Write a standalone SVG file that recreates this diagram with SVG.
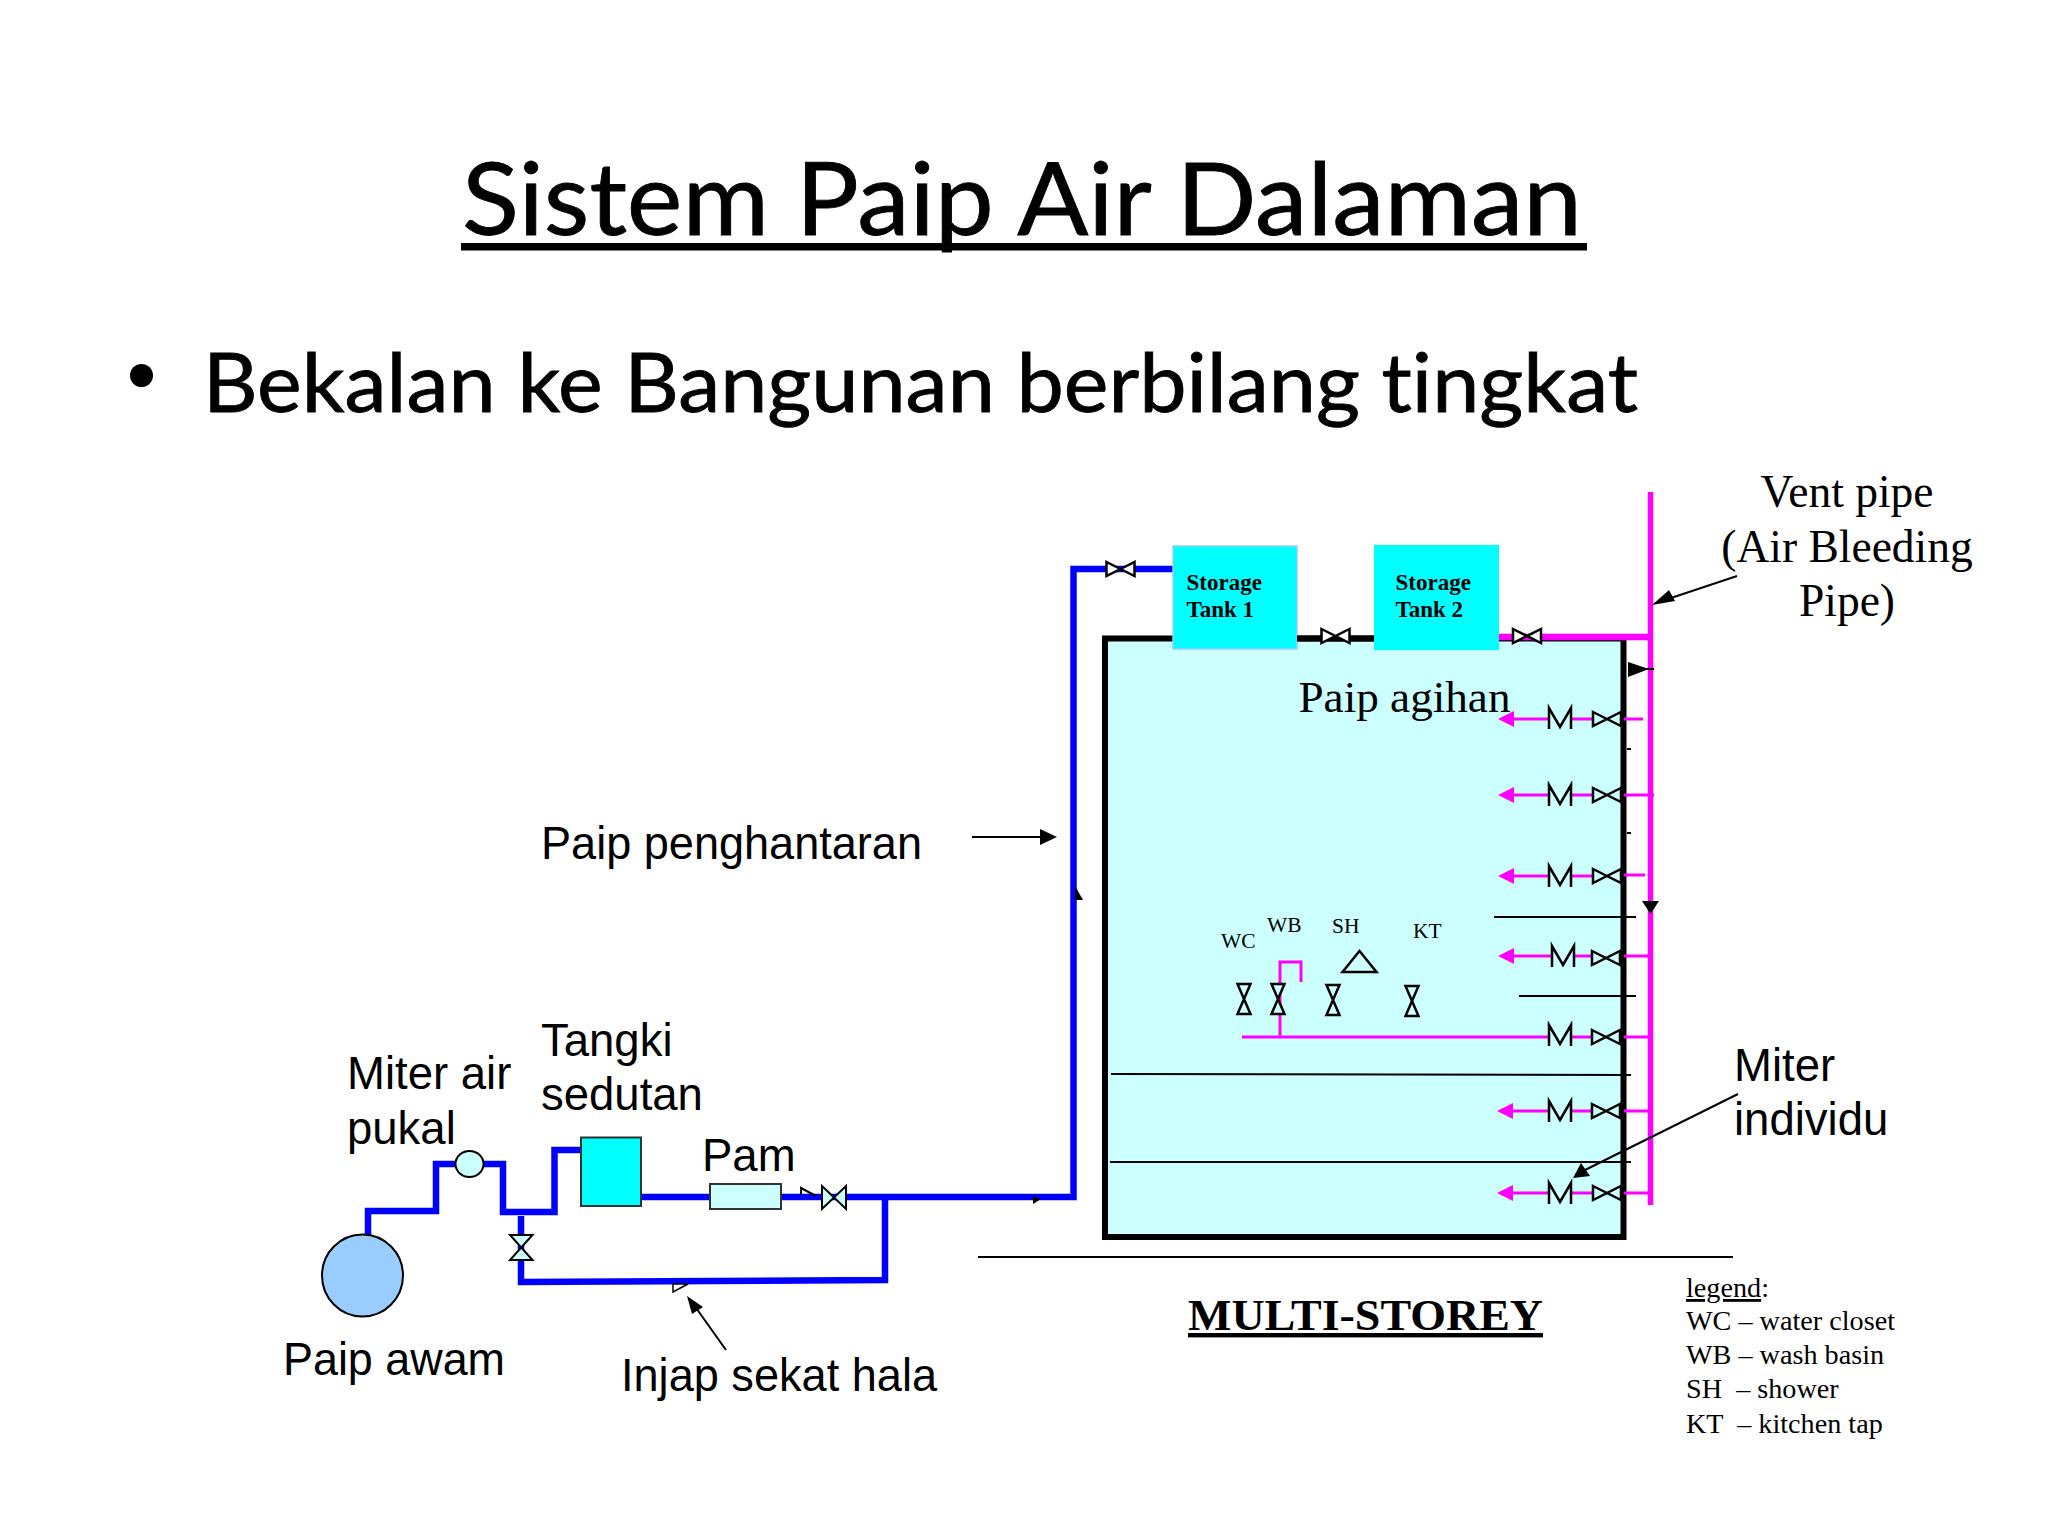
<svg xmlns="http://www.w3.org/2000/svg" width="2048" height="1536" viewBox="0 0 2048 1536">
<defs>
<style>
.sl{font-family:"Lato","Noto Sans",sans-serif;fill:#000;stroke:#000;stroke-width:.8;font-variant-ligatures:none}
.a{font-family:"Liberation Sans",Arial,sans-serif;font-size:45.500px;fill:#000}
.t{font-family:"Liberation Serif","Times New Roman",serif;fill:#000}
.b{font-weight:bold}
.fx{font-size:21.500px}
.lg{font-size:28.200px;white-space:pre}
.blue{fill:none;stroke:#0000ff;stroke-width:6.500}
.mag{fill:none;stroke:#ff00ff;stroke-width:3}
.magT{fill:none;stroke:#ff00ff;stroke-width:6.500}
.thin{fill:none;stroke:#000;stroke-width:2}
.v{fill:#fff;stroke:#000;stroke-width:2.500}
.vc{fill:#ccffff;stroke:#000;stroke-width:2.500}
.m{fill:none;stroke:#000;stroke-width:2.500}
.hd{fill:#000;stroke:none}
.mh{fill:#ff00ff;stroke:none}
</style>
<g id="vh"><path class="v" d="M-14,-7 L14,7 L14,-7 L-14,7 Z"/></g>
<g id="vhc"><path class="vc" d="M-14,-7 L14,7 L14,-7 L-14,7 Z"/></g>
<g id="vv"><path class="vc" d="M-6.500,-15 L6.500,-15 L-6.500,15 L6.500,15 Z"/></g>
<g id="meter"><rect x="-10" y="-6" width="20" height="12" fill="#ccffff"/><path class="m" d="M-11,11 L-11,-10 L0,9 L11,-10 L11,11"/></g>
<g id="row"><path class="mag" d="M14,0 H95"/><path class="mh" d="M0,0 L16,-8 L16,8 Z"/></g>
</defs>
<rect width="2048" height="1536" fill="#fff"/>

<g id="title">
<text class="sl" x="462" y="235" font-size="101" textLength="1120" lengthAdjust="spacingAndGlyphs">Sistem Paip Air Dalaman</text>
<rect x="461" y="243" width="1126" height="7.500" fill="#000"/>
</g>
<g id="bullet">
<circle cx="141.500" cy="375.500" r="11.500" fill="#000"/>
<text class="sl" x="203" y="412" font-size="81" textLength="1435" lengthAdjust="spacingAndGlyphs">Bekalan ke Bangunan berbilang tingkat</text>
</g>

<g id="building"><rect x="1105" y="638.500" width="518.500" height="598.500" fill="#ccffff" stroke="#000" stroke-width="6"/></g>

<g id="connectors">
<path class="blue" d="M368,1237 V1211 H436 V1164 H503 V1212 H554.500 V1150 H581"/>
<path class="blue" d="M642,1197 H1073.500 V569 H1173"/>
<path class="blue" d="M521,1216 V1282 L885,1280 V1197"/>
<path class="magT" d="M1499,637 H1650"/>
<path d="M1650.500,492 V1205" fill="none" stroke="#ff00ff" stroke-width="5.500"/>
<path class="mag" d="M1624,719 H1643 M1624,795 H1654 M1624,875 H1645 M1624,956 H1648 M1624,1037 H1650 M1624,1111 H1650 M1624,1193 H1650"/>
<path class="mag" d="M1242,1037 H1593"/>
<path class="mag" d="M1280,1037 V962 H1301 V982"/>
<g id="row-pipes">
<use href="#row" x="1498" y="719"/>
<use href="#row" x="1498" y="795"/>
<use href="#row" x="1498" y="876"/>
<use href="#row" x="1498" y="956"/>
<use href="#row" x="1497" y="1111"/>
<use href="#row" x="1497" y="1193"/>
</g>
<path class="thin" d="M1494,917 H1636 M1519,996 H1636 M1111,1074 L1631,1075 M1110,1162 H1631 M978,1257 H1733"/>
<path class="thin" d="M1627,749 H1631 M1627,833 H1631"/>
<path class="thin" d="M972,837 H1042"/><path class="hd" d="M1057,837 L1040,829 V845 Z"/>
<path class="thin" d="M1737,576 L1665,600"/><path class="hd" d="M1652,605 L1669,590 L1675,601 Z"/>
<path class="hd" d="M1649,669 L1628,662 V677 Z"/><path class="thin" d="M1640,669 H1654"/>
<path class="hd" d="M1650.500,914 L1642,901 H1659 Z"/>
<path class="hd" d="M1075,886 L1083,900 H1075 Z"/>
<path class="thin" d="M1738,1094 L1585,1170"/><path class="hd" d="M1573,1178 L1581,1163 L1590,1176 Z"/>
<path class="thin" d="M726,1350 L694,1305"/><path class="hd" d="M687,1296 L703,1307 L692,1314 Z"/>
<path class="hd" d="M1033,1196 V1204 L1041,1199 Z"/>
</g>

<g id="tank-1"><rect x="1173" y="546" width="124" height="103" fill="#00ffff" stroke="#99ccff" stroke-width="1.500"/>
<text class="t b" font-size="23" x="1186.500" y="590">Storage</text><text class="t b" font-size="23" x="1186.500" y="617">Tank 1</text></g>
<g id="tank-2"><rect x="1374" y="545" width="125" height="105" fill="#00ffff"/>
<text class="t b" font-size="23" x="1395.500" y="590">Storage</text><text class="t b" font-size="23" x="1395.500" y="617">Tank 2</text></g>
<path d="M1297,638.500 H1374" fill="none" stroke="#000" stroke-width="6"/>

<g id="valves">
<use href="#vh" x="1120.500" y="569"/><use href="#vh" x="1335.500" y="636"/><use href="#vh" x="1527" y="636"/>
<use href="#vhc" x="1607" y="719"/><use href="#vhc" x="1607" y="795"/><use href="#vhc" x="1607" y="876"/><use href="#vhc" x="1606" y="958"/>
<use href="#vhc" x="1606" y="1037"/><use href="#vhc" x="1606" y="1111"/><use href="#vhc" x="1607" y="1193"/>
<use href="#vv" x="1244" y="999"/><use href="#vv" x="1278" y="999"/><use href="#vv" x="1333" y="1000"/><use href="#vv" x="1412" y="1001"/>
</g>
<g id="meters">
<use href="#meter" x="1560" y="718"/><use href="#meter" x="1560" y="795"/><use href="#meter" x="1560" y="876"/><use href="#meter" x="1563" y="956"/>
<use href="#meter" x="1560" y="1035"/><use href="#meter" x="1560" y="1111"/><use href="#meter" x="1560" y="1193"/>
</g>
<g id="shower"><path d="M1359.500,951 L1342.500,972 H1376.500 Z" fill="none" stroke="#000" stroke-width="2.500"/></g>

<g id="public-main"><ellipse cx="362.500" cy="1275.500" rx="40.500" ry="41" fill="#99ccff" stroke="#000" stroke-width="2"/></g>
<g id="bulk-meter"><ellipse cx="469.500" cy="1164" rx="14" ry="13" fill="#ccffff" stroke="#000" stroke-width="2"/></g>
<g id="suction-tank"><rect x="581" y="1137.500" width="60" height="68.500" fill="#00ffff" stroke="#333" stroke-width="2"/></g>
<g id="pump"><rect x="710" y="1184" width="71" height="25" fill="#ccffff" stroke="#333" stroke-width="2"/></g>
<g id="pump-valve"><path d="M822,1186 L846,1209 V1186 L822,1209 Z" fill="#ccffff" stroke="#000" stroke-width="2"/><path d="M801,1195 V1188 L816,1196" fill="none" stroke="#000" stroke-width="2"/></g>
<g id="bypass-valve"><path d="M510,1235 H532.500 L510,1260 H532.500 Z" fill="#ccffff" stroke="#000" stroke-width="2"/></g>
<g id="check-valve"><path d="M673,1284 V1292 L688,1284 Z" fill="#fff" stroke="#000" stroke-width="1.500"/></g>

<g id="labels">
<text class="a" x="541" y="859" textLength="381" lengthAdjust="spacingAndGlyphs">Paip penghantaran</text>
<text class="a" x="541" y="1056">Tangki</text><text class="a" x="541" y="1110">sedutan</text>
<text class="a" x="347" y="1089">Miter air</text><text class="a" x="347" y="1144">pukal</text>
<text class="a" x="702" y="1171">Pam</text>
<text class="a" x="283" y="1375" textLength="222" lengthAdjust="spacingAndGlyphs">Paip awam</text>
<text class="a" x="621" y="1391" textLength="316" lengthAdjust="spacingAndGlyphs">Injap sekat hala</text>
<text class="a" x="1734" y="1081">Miter</text><text class="a" x="1734" y="1135">individu</text>
<text class="t" font-size="45.500" x="1847" y="507" text-anchor="middle">Vent pipe</text>
<text class="t" font-size="45.500" x="1847" y="562" text-anchor="middle">(Air Bleeding</text>
<text class="t" font-size="45.500" x="1847" y="616" text-anchor="middle">Pipe)</text>
<text class="t" font-size="45" x="1298.500" y="712" textLength="212" lengthAdjust="spacingAndGlyphs">Paip agihan</text>
<text class="t fx" x="1221" y="948">WC</text><text class="t fx" x="1267" y="932">WB</text><text class="t fx" x="1332" y="933">SH</text><text class="t fx" x="1413" y="938">KT</text>
<text class="t b" font-size="44" x="1188" y="1330" textLength="355" lengthAdjust="spacingAndGlyphs" text-decoration="underline">MULTI-STOREY</text>
<text class="t lg" x="1686" y="1297"><tspan text-decoration="underline">legend</tspan>:</text>
<text class="t lg" x="1686" y="1330">WC – water closet</text>
<text class="t lg" x="1686" y="1364">WB – wash basin</text>
<text class="t lg" x="1686" y="1398">SH  – shower</text>
<text class="t lg" x="1686" y="1433">KT  – kitchen tap</text>
</g>
</svg>
